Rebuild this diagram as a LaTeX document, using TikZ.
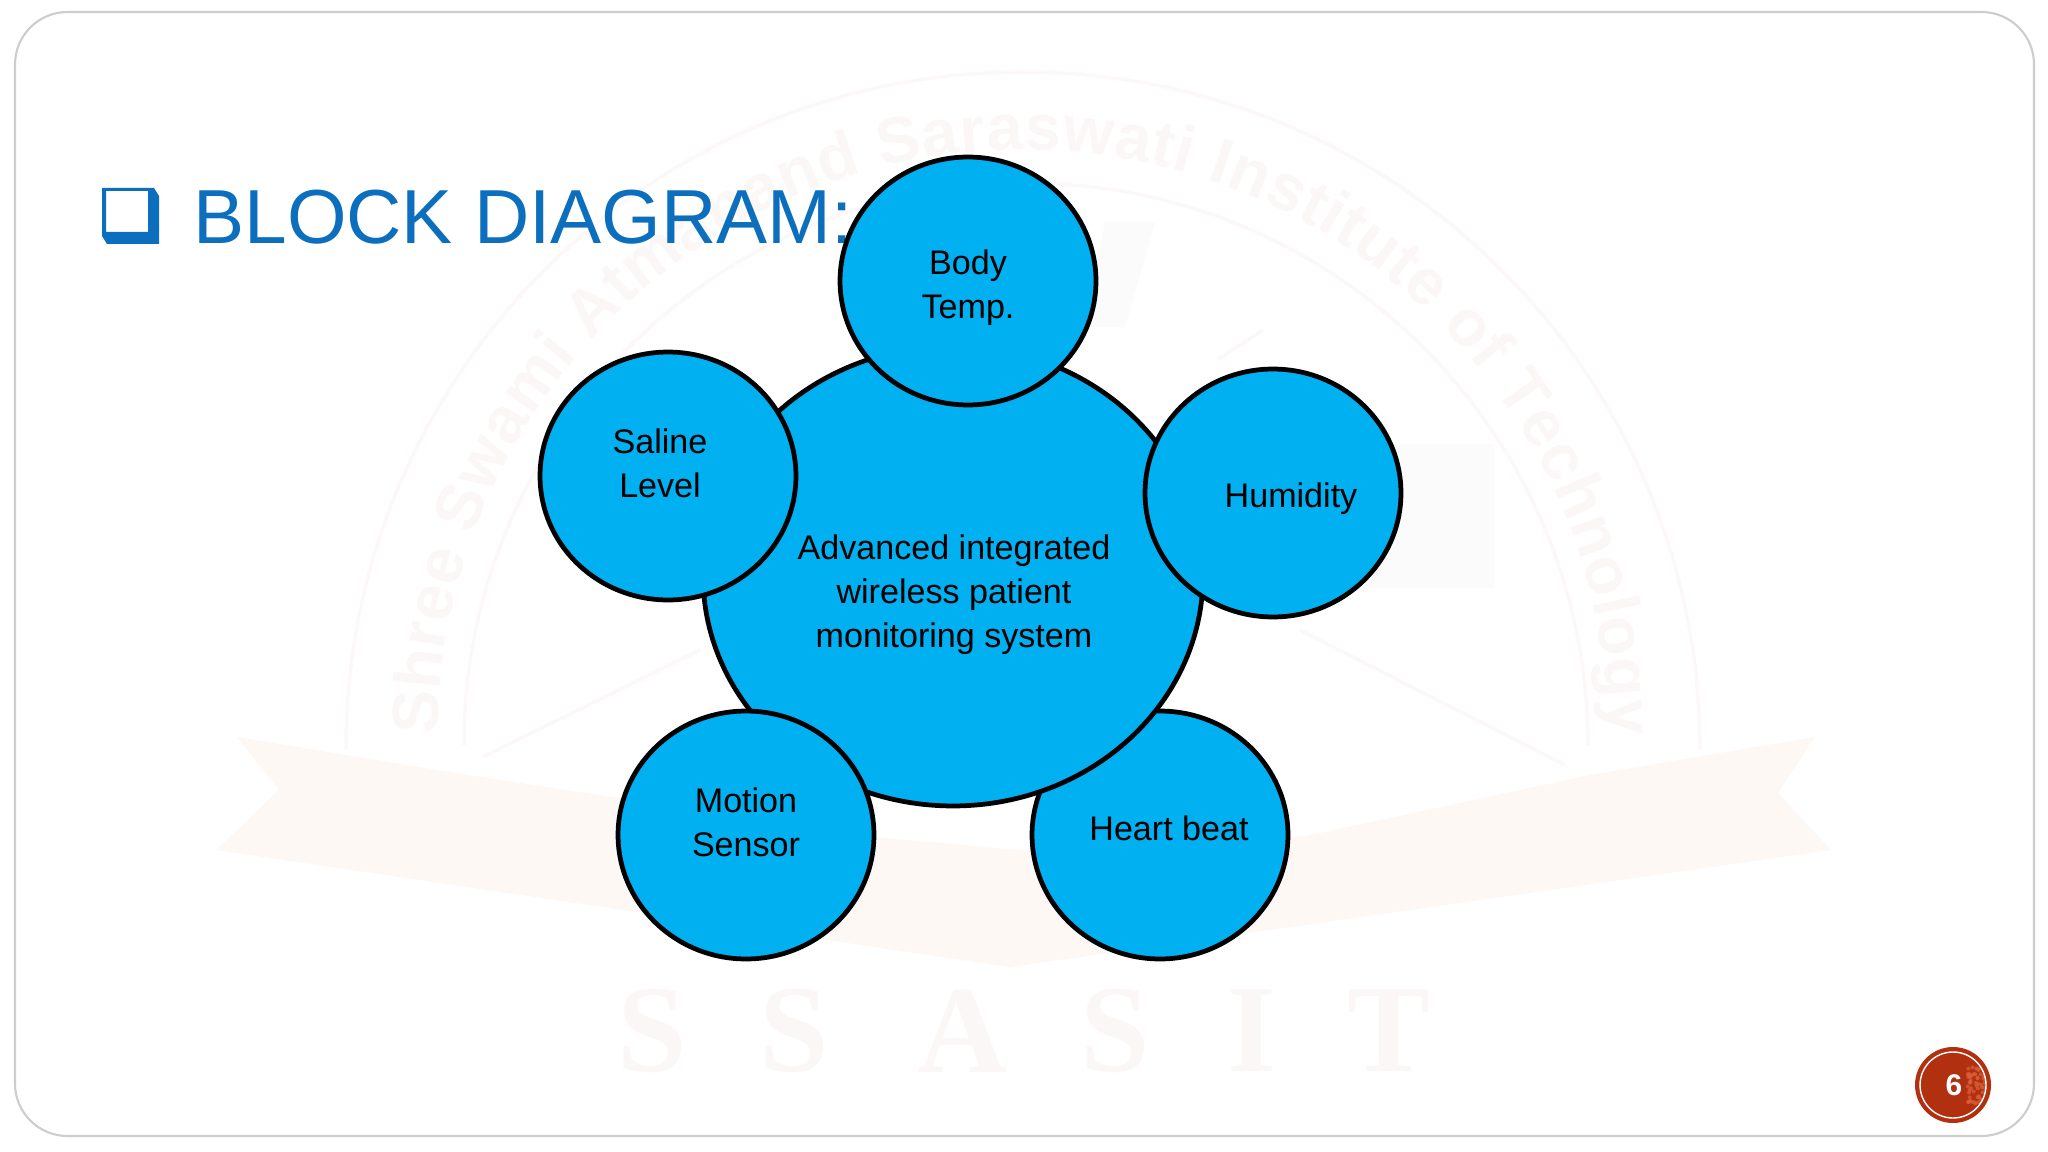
\documentclass[tikz,border=0pt]{standalone}
\usepackage{fontspec}
\usepackage{tikz}
\usetikzlibrary{shapes.geometric,decorations.text}
\setmainfont{Liberation Sans}
\newfontfamily\serifmark{Liberation Serif}
\definecolor{blobblue}{HTML}{00B0F0}
\definecolor{titleblue}{HTML}{0B6FBE}
\definecolor{badgered}{HTML}{B03010}
\definecolor{badgelight}{HTML}{D9603A}
\definecolor{framegray}{HTML}{CDCDCD}
\definecolor{markline}{HTML}{FCF8F9}
\definecolor{markribbon}{HTML}{FEF8F5}
\definecolor{marktext}{HTML}{FCF7F7}
\definecolor{markmonitor}{HTML}{FBFBFC}
\tikzset{
    blob/.style = {draw=black, fill=blobblue, ellipse, line width=2.7pt, inner sep=0pt, minimum width=5.12cm, minimum height=4.96cm},
    blob-title/.style = {text=black, align=center, inner sep=0pt, font=\fontsize{19.4}{25}\selectfont},
    mark-letter/.style = {text=marktext, inner sep=0pt, font=\serifmark\bfseries\fontsize{71}{71}\selectfont},
}
\begin{document}
\begin{tikzpicture}[x=0.02cm, y=-0.02cm]
\useasboundingbox (0,0) rectangle (2048,1152);
\fill[white] (0,0) rectangle (2048,1152);
\draw[framegray, line width=1.2pt, fill=white, rounded corners=1.05cm] (15,12) rectangle (2034,1136);

% watermark
\draw[markline, line width=2pt] (346,749) arc[start angle=180, end angle=360, radius=677];
\draw[markline, line width=2pt] (464,745) arc[start angle=180, end angle=360, radius=562];
\draw[markline, line width=2pt] (483,757) -- (700,650);
\draw[markline, line width=2pt] (1565,765) -- (1300,630);
\draw[markline, line width=2pt] (1217,360) -- (1263,330);
\fill[markribbon] (237,737) -- (468,775) -- (873,837) -- (1020,850) -- (1306,836) -- (1590,775) -- (1815,737)
    -- (1778,793) -- (1831,850) -- (1010,967) -- (216,850) -- (279,790) -- cycle;
\fill[markmonitor] (1371,444) rectangle (1495,588);
\fill[markmonitor] (1105,222) -- (1155,222) -- (1125,327) -- (1085,327) -- cycle;
\path[postaction={decorate}, decoration={text along path, text align={fit to path}, text={|\bfseries\fontsize{37}{37}\selectfont\color{marktext}|Shree Swami Atmanand Saraswati Institute of Technology}}]
    (438,735) arc[start angle=180, end angle=360, radius=585];
\foreach \letter/\posx [count=\i] in {S/652,S/794,A/963,S/1115,I/1252,T/1389}
    \node[mark-letter] (mark\i) at (\posx,1031) {\letter};

% title
\node[anchor=base west, inner sep=0pt, text=titleblue, font=\fontsize{43.6}{43.6}\selectfont] (title) at (193,244) {BLOCK DIAGRAM:};
\fill[titleblue, even odd rule] (102,188) -- (154,188) -- (159,196) -- (159,244) -- (107,244) -- (102,236) -- cycle
    (106,191) rectangle (148,232);

% circles
\node[blob] (heart) at (1160,835) {};
\node[blob, minimum width=10cm, minimum height=9.2cm] (system) at (953,576) {};
\node[blob] (body) at (968,281) {};
\node[blob] (humidity) at (1273,493) {};
\node[blob] (saline) at (668,476) {};
\node[blob] (motion) at (746,835) {};

\node[blob-title] (systemtext) at (954,595) {Advanced integrated\\wireless patient\\monitoring system};
\node[blob-title] (bodytext) at (968,288) {Body\\Temp.};
\node[blob-title] (humiditytext) at (1291,499) {Humidity};
\node[blob-title] (salinetext) at (660,463) {Saline\\Level};
\node[blob-title] (motiontext) at (746,822) {Motion\\Sensor};
\node[blob-title] (hearttext) at (1169,828) {Heart beat};

% page badge
\fill[badgered] (1953,1085) circle (38);
\begin{scope}
\clip (1953,1085) circle (33);
\pgfmathsetseed{6}
\foreach \i in {1,...,60}
    \fill[badgelight, opacity=.7] ({1965+rnd*24},{1065+rnd*40}) circle (2);
\end{scope}
\draw[white, line width=.8pt] (1953,1085) circle (33);
\node[text=white, inner sep=0pt, font=\bfseries\fontsize{17}{17}\selectfont] (pagenum) at (1954,1085) {6};
\end{tikzpicture}
\end{document}
